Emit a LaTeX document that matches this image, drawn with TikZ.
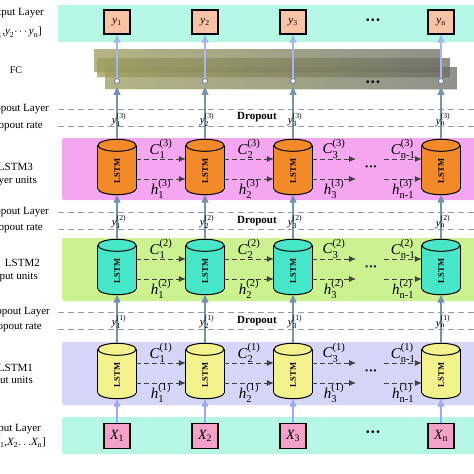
\documentclass[tikz,border=0pt]{standalone}
\usepackage{fontspec}
\usepackage{amsmath}
\setmainfont{Liberation Serif}
\usetikzlibrary{arrows.meta}
\definecolor{bandcyan}{HTML}{B5F7E4}
\definecolor{bandpink}{HTML}{F4A6F0}
\definecolor{bandgreen}{HTML}{CCF290}
\definecolor{bandlav}{HTML}{D5D5F8}
\definecolor{cellor}{HTML}{F28A2A}
\definecolor{cellcy}{HTML}{48E6C8}
\definecolor{cellye}{HTML}{F2F28C}
\definecolor{outboxc}{HTML}{F8C2A4}
\definecolor{inboxc}{HTML}{F2A2C8}
\definecolor{vline}{HTML}{7393AD}
\definecolor{lavline}{HTML}{A0A8F0}
\definecolor{lavline2}{HTML}{AAB6E8}
\definecolor{dashgray}{HTML}{9A9A9A}
\definecolor{fcleft}{HTML}{EAEA8C}
\definecolor{fcright}{HTML}{A2A496}
\definecolor{circc}{HTML}{5A78B0}
\newcommand\seqlbl[3]{$\textit{#1}^{\text{(#3)}}_{\text{#2}}$}
\newcommand\iolbl[2]{$\textit{#1}_{\text{#2}}$}
\newcommand\lstmcell[4]{%
  \node[cellbox] (#1) at (#2,#3) {};
  \filldraw[cylout, fill=#4] ([yshift=6pt]#1.south) ellipse [x radius=19pt, y radius=6pt];
  \fill[#4] ([yshift=-6pt]#1.north west) rectangle ([yshift=6pt]#1.south east);
  \draw[cylout] ([yshift=-6pt]#1.north west) -- ([yshift=6pt]#1.south west)
                ([yshift=-6pt]#1.north east) -- ([yshift=6pt]#1.south east);
  \filldraw[cylout, fill=#4] ([yshift=-6pt]#1.north) ellipse [x radius=19pt, y radius=6pt];
  \node[celltext] (#1t) at ([yshift=-4pt]#1.center) {LSTM};
}
\begin{document}
\begin{tikzpicture}[x=1pt,y=-1pt,
  band/.style={rounded corners=2pt},
  dropline/.style={dashgray, dash pattern=on 6pt off 4pt, line width=0.8pt},
  cellbox/.style={rectangle, minimum width=38pt, minimum height=55pt, inner sep=0pt, draw=none},
  cylout/.style={draw=black, line width=1pt},
  celltext/.style={rotate=90, font=\bfseries\fontsize{8.5}{8.5}\selectfont, inner sep=0pt},
  outbox/.style={draw=black, line width=1.3pt, fill=outboxc, minimum width=26pt, minimum height=24pt, inner sep=0pt, font=\fontsize{11}{11}\selectfont},
  inbox/.style={draw=black, line width=1.3pt, fill=inboxc, minimum width=26pt, minimum height=25pt, inner sep=0pt, font=\fontsize{14}{14}\selectfont},
  fccirc/.style={circle, draw=circc, fill=white, line width=0.8pt, minimum size=5pt, inner sep=0pt},
  seqarrow/.style={draw=black!75, dash pattern=on 5pt off 3pt, line width=0.8pt, -{Latex[length=7pt,width=6pt]}},
  uparrow/.style={vline, line width=1.3pt, -{Triangle[length=8pt,width=7pt]}},
  lavarrow/.style={lavline, line width=1.2pt, -{Triangle[length=8pt,width=7pt]}},
  lavarrowb/.style={lavline2, line width=1.1pt, -{Triangle[length=8pt,width=7pt]}},
  clbl/.style={font=\fontsize{15}{15}\selectfont, inner sep=0.5pt},
  ylbl/.style={font=\fontsize{11}{11}\selectfont, inner sep=0pt},
  leftlbl/.style={font=\fontsize{11}{12}\selectfont, anchor=east, inner sep=0pt},
  droplbl/.style={font=\bfseries\fontsize{11}{11}\selectfont, inner sep=0pt},
  bigdots/.style={font=\bfseries\fontsize{10}{10}\selectfont, inner sep=0pt},
  smalldots/.style={font=\bfseries\fontsize{8}{8}\selectfont, inner sep=0pt}
]
\useasboundingbox (0,0) rectangle (474,474);
\clip (0,0) rectangle (474,474);
% bands
\fill[bandcyan, band] (58,5) rectangle (490,42);
\fill[bandpink, band] (62,138) rectangle (490,200);
\fill[bandgreen, band] (62,238) rectangle (490,301);
\fill[bandlav, band] (62,342) rectangle (490,405);
\fill[bandcyan, band] (62,417) rectangle (490,454);
% dropout dashed lines
\foreach \yy in {109,126,212,229,312,329} \draw[dropline] (58,\yy) -- (474,\yy);
% FC bars
\fill[left color=fcleft, right color=fcright, opacity=0.5] (94,49) rectangle (442,72);
\fill[left color=fcleft, right color=fcright, opacity=0.5] (97,58) rectangle (450,77);
\fill[left color=fcleft, right color=fcright, opacity=0.5] (105,67) rectangle (457,89);
% left labels
\node[leftlbl] (lo1) at (44,13) {Output Layer};
\node[leftlbl] (lo2) at (42,32) {[\iolbl{y}{1},\iolbl{y}{2}$\cdots$\iolbl{y}{n}]};
\node[font=\fontsize{10}{10}\selectfont, inner sep=0pt] (lfc) at (16,70) {FC};
\node[leftlbl] (ld31) at (49,109) {Dropout Layer};
\node[leftlbl] (ld32) at (43,126) {Dropout rate};
\node[leftlbl] (ll31) at (33,167) {LSTM3};
\node[leftlbl] (ll32) at (37,181) {Hidden layer units};
\node[leftlbl] (ld21) at (49,212) {Dropout Layer};
\node[leftlbl] (ld22) at (43,228) {Dropout rate};
\node[leftlbl] (ll21) at (40,263) {LSTM2};
\node[leftlbl] (ll22) at (38,277) {Output units};
\node[leftlbl] (ld11) at (50,312) {Dropout Layer};
\node[leftlbl] (ld12) at (42,327) {Dropout rate};
\node[leftlbl] (ll11) at (33,368) {LSTM1};
\node[leftlbl] (ll12) at (33,381) {Input units};
\node[leftlbl] (li1) at (41,429) {Input Layer};
\node[leftlbl] (li2) at (46,443) {[\iolbl{X}{1},\iolbl{X}{2}$\ldots$\iolbl{X}{n}]};
% output and input boxes, FC circles
\foreach \k/\cx in {1/117, 2/205, 3/293, n/441} {
  \node[outbox] (o\k) at (\cx,22) {\iolbl{y}{\k}};
  \node[fccirc] (f\k) at (\cx,81) {};
  \node[inbox] (x\k) at (\cx,436) {\iolbl{X}{\k}};
}
\node[bigdots] (od) at (373,21) {\textbullet\,\textbullet\,\textbullet};
\node[bigdots] (fd) at (373,83) {\textbullet\,\textbullet\,\textbullet};
\node[bigdots] (id) at (373,433) {\textbullet\,\textbullet\,\textbullet};
% dropout labels
\node[droplbl] (dr3) at (257,117) {Dropout};
\node[droplbl] (dr2) at (257,221) {Dropout};
\node[droplbl] (dr1) at (257,321) {Dropout};
% LSTM layers
\foreach \L/\cy/\col in {3/167/cellor, 2/267/cellcy, 1/371/cellye} {
  \foreach \k/\cx in {1/117, 2/205, 3/293, n/441} {
    \lstmcell{c\L\k}{\cx}{\cy}{\col}
  }
  \pgfmathsetmacro\yC{\cy-8}
  \pgfmathsetmacro\yH{\cy+12}
  \coordinate (ac\L) at (356,\yC);
  \coordinate (bc\L) at (384,\yC);
  \coordinate (ah\L) at (356,\yH);
  \coordinate (bh\L) at (384,\yH);
  \draw[seqarrow] (c\L1.east |- ac\L) -- (c\L2.west |- ac\L);
  \draw[seqarrow] (c\L2.east |- ac\L) -- (c\L3.west |- ac\L);
  \draw[seqarrow] (c\L3.east |- ac\L) -- (ac\L);
  \draw[seqarrow] (bc\L) -- (c\L n.west |- bc\L);
  \draw[seqarrow] (c\L1.east |- ah\L) -- (c\L2.west |- ah\L);
  \draw[seqarrow] (c\L2.east |- ah\L) -- (c\L3.west |- ah\L);
  \draw[seqarrow] (c\L3.east |- ah\L) -- (ah\L);
  \draw[seqarrow] (bh\L) -- (c\L n.west |- bh\L);
  \node[clbl, anchor=south] (C\L1) at (161,\yC) {\seqlbl{C}{1}{\L}};
  \node[clbl, anchor=south] (C\L2) at (249,\yC) {\seqlbl{C}{2}{\L}};
  \node[clbl, anchor=south] (C\L3) at (334,\yC) {\seqlbl{C}{3}{\L}};
  \node[clbl, anchor=south] (C\L n) at (403,\yC) {\seqlbl{C}{n-1}{\L}};
  \node[clbl, anchor=north] (h\L1) at (161,\yH) {\seqlbl{h}{1}{\L}};
  \node[clbl, anchor=north] (h\L2) at (249,\yH) {\seqlbl{h}{2}{\L}};
  \node[clbl, anchor=north] (h\L3) at (334,\yH) {\seqlbl{h}{3}{\L}};
  \node[clbl, anchor=north] (h\L n) at (403,\yH) {\seqlbl{h}{n-1}{\L}};
  \node[smalldots] (md\L) at (371,\cy+1) {\textbullet\,\textbullet\,\textbullet};
}
% vertical connectors
\foreach \k in {1,2,3,n} {
  \draw[lavarrow] (x\k.north) -- (c1\k.south);
  \draw[uparrow] (c1\k.north) -- (c2\k.south);
  \draw[uparrow] (c2\k.north) -- (c3\k.south);
  \draw[uparrow, shorten >=3pt] (c3\k.north) -- (f\k.south);
  \draw[lavarrowb] (f\k.north) -- (o\k.south);
}
% y labels between layers (on top of the connectors)
\foreach \k/\cx in {1/117, 2/205, 3/293, n/441} {
  \node[ylbl] (y3\k) at (\cx+2,120) {\seqlbl{y}{\k}{3}};
  \node[ylbl] (y2\k) at (\cx+2,222) {\seqlbl{y}{\k}{2}};
  \node[ylbl] (y1\k) at (\cx+2,322) {\seqlbl{y}{\k}{1}};
}
\end{tikzpicture}
\end{document}
